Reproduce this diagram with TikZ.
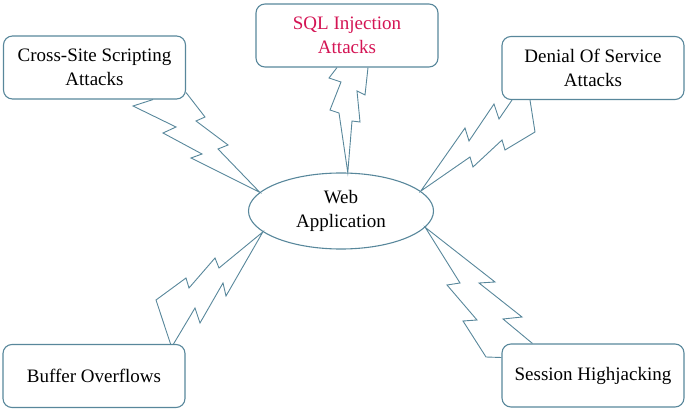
\documentclass[tikz,border=0pt]{standalone}
\usepackage{fontspec}
\setmainfont{Liberation Serif}
\usetikzlibrary{shapes.geometric}
\definecolor{edgeblue}{RGB}{88,135,155}
\definecolor{sqlred}{RGB}{212,20,84}
\tikzset{
  attack/.style={draw=edgeblue, line width=1.1pt, rounded corners=9pt,
    minimum width=182pt, minimum height=63pt, inner sep=0pt, align=center,
    font=\fontsize{19}{24}\selectfont},
  app/.style={draw=edgeblue, line width=1.1pt, ellipse,
    minimum width=185pt, minimum height=76pt, inner sep=0pt, align=center,
    font=\fontsize{19}{24}\selectfont},
  bolt/.style={draw=edgeblue, line width=0.9pt, line join=miter}
}
\begin{document}
\begin{tikzpicture}[x=1pt,y=-1pt]
\useasboundingbox (0,0) rectangle (685,414);
\node[attack] (xss) at (94.5,67.5) {Cross-Site Scripting\\Attacks};
\node[attack, text=sqlred] (sql) at (347,35.5) {SQL Injection\\Attacks};
\node[attack] (dos) at (593,68) {Denial Of Service\\Attacks};
\node[attack] (buf) at (94,376) {Buffer Overflows};
\node[attack] (ses) at (593,375.5) {Session Highjacking};
\node[app] (web) at (341,211) {Web\\Application};

\draw[bolt] ([yshift=7pt]xss.south east)--(205,117)--(196,121)--(228,145)--(218,149)
  --(web.167)--(191,158)--(202,154)--(163,133)--(176,127)--(133,106)--([xshift=-33pt]xss.south east);
\draw[bolt] ([xshift=-10pt]sql.south)--(329,78)--(341,82)--(330,110)--(339,113)
  --(web.80)--(352,121)--(360,122)--(357,91)--(365,95)--([xshift=21pt]sql.south);
\draw[bolt] ([xshift=-81pt]dos.south)--(499,119)--(494,104)--(469,141)--(465,128)
  --(web.14)--(470,157)--(473,167)--(502,140)--(505,150)--(535,132)--([xshift=-63pt]dos.south);
\draw[bolt] ([xshift=-15pt]buf.north east)--(156,300)--(186,278)--(189,288)--(215,258)--(219,268)
  --(web.195)--(226,296)--(223,283)--(200,323)--(195,308)--([xshift=-12pt]buf.north east);
\draw[bolt] ([yshift=18pt]ses.west)--(486,357)--(463,321)--(477,320)--(447,285)--(460,283)
  --(web.-11)--(495,282)--(479,283)--(522,317)--(503,319)--([xshift=31pt]ses.north west);
\end{tikzpicture}
\end{document}
